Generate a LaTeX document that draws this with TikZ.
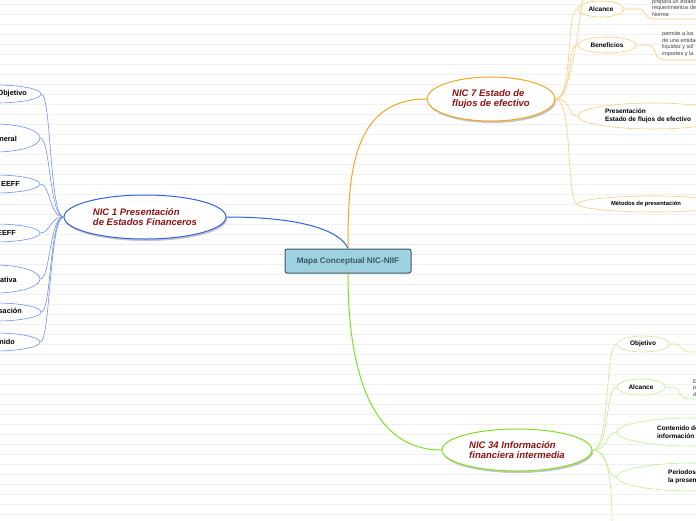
\documentclass[tikz,border=0pt]{standalone}
\usepackage{fontspec}
\setmainfont{Liberation Sans}
\usetikzlibrary{shapes.geometric,shadows}
\definecolor{bl}{HTML}{2F63E0}
\definecolor{blc}{HTML}{6E93F2}
\definecolor{orc}{HTML}{F5A623}
\definecolor{orl}{HTML}{FFCB78}
\definecolor{gr}{HTML}{7EE022}
\definecolor{grl}{HTML}{BDF08A}
\definecolor{dred}{HTML}{8E1212}
\definecolor{cfill}{HTML}{9ED2E0}
\definecolor{cdraw}{HTML}{3E5664}
\tikzset{
 mainnode/.style={ellipse,draw=#1,line width=1pt,fill=white,inner sep=0pt,align=left,
   font=\fontsize{9.5}{10.5}\selectfont\itshape\bfseries,text=dred,
   drop shadow={shadow xshift=1pt,shadow yshift=-2pt,fill=black!45,opacity=.5}},
 child/.style={ellipse,draw=#1,line width=.6pt,fill=white,inner sep=0pt,align=left,
   font=\fontsize{6.5}{7.5}\selectfont\bfseries},
 ltext/.style={anchor=east,inner sep=0pt,font=\fontsize{7.3}{8}\selectfont\bfseries},
 desc/.style={anchor=west,align=left,inner sep=0pt,font=\fontsize{5.5}{6.5}\selectfont,text=black!75},
 conn/.style={line width=.6pt,draw=#1},
 mainconn/.style={line width=1pt,draw=#1}
}
\begin{document}
\begin{tikzpicture}[x=1pt,y=-1pt]
\useasboundingbox (0,0) rectangle (696,520);
\clip (0,0) rectangle (696,520);
\fill[white] (0,0) rectangle (696,520);
\foreach \y in {4,14,...,520} \draw[black!6,line width=.5pt] (0,\y) -- (696,\y);
% center
\node[draw=cdraw,fill=cfill,line width=1pt,rounded corners=2pt,minimum width=126pt,minimum height=24pt,
  font=\fontsize{8.2}{9}\selectfont\bfseries,text=cdraw] (c) at (348,261) {Mapa Conceptual NIC-NIIF};
% main nodes
\node[mainnode=bl,minimum width=162pt,minimum height=44pt] (n1) at (145,217) {NIC 1 Presentación\\de Estados Financeros};
\node[mainnode=orc,minimum width=128pt,minimum height=44pt] (n7) at (491,99) {NIC 7 Estado de\\flujos de efectivo};
\node[mainnode=gr,minimum width=150pt,minimum height=42pt] (n34) at (517,450) {NIC 34 Información\\financiera intermedia};
\draw[mainconn=bl] (c.north) .. controls (340,230) and (300,217) .. (n1.east);
\draw[mainconn=orc] (c.north) .. controls (348,180) and (350,99) .. (n7.west);
\draw[mainconn=gr] (c.south) .. controls (348,330) and (355,450) .. (n34.west);
% NIC1 children
\node[child=blc,minimum width=90pt,minimum height=18pt] (a1) at (-4,94) {};
\node[child=blc,minimum width=90pt,minimum height=28pt] (a2) at (-5,138) {};
\node[child=blc,minimum width=90pt,minimum height=18pt] (a3) at (-5,184) {};
\node[child=blc,minimum width=90pt,minimum height=18pt] (a4) at (-5,233) {};
\node[child=blc,minimum width=90pt,minimum height=28pt] (a5) at (-5,279) {};
\node[child=blc,minimum width=90pt,minimum height=18pt] (a6) at (-4,312) {};
\node[child=blc,minimum width=90pt,minimum height=18pt] (a7) at (-5,342) {};
\node[ltext] (l1) at (27,94) {Objetivo};
\node[ltext] (l2) at (17,139) {General};
\node[ltext] (l3) at (20,184) {EEFF};
\node[ltext] (l4) at (16,233) {EEFF};
\node[ltext] (l5) at (17,280) {Normativa};
\node[ltext] (l6) at (22,312) {Compensación};
\node[ltext] (l7) at (15,342) {Contenido};
\foreach \k in {a1,a2,a3,a4,a5,a6,a7}
  \draw[conn=blc] (n1.west) .. controls +(-14,0) and +(10,0) .. (\k.east);
% NIC7 children
\coordinate (o0) at (585,-12);
\node[child=orl,minimum width=46pt,minimum height=16pt] (o1) at (601,9) {Alcance};
\node[child=orl,minimum width=58pt,minimum height=16pt] (o2) at (607,45) {Beneficios};
\node[child=orl,minimum width=150pt,minimum height=26pt] (o3) at (653,116) {Presentación\\Estado de flujos de efectivo\hspace*{10pt}};
\node[child=orl,minimum width=150pt,minimum height=16pt] (o4) at (653,204) {\fontsize{5.8}{6}\selectfont\bfseries Métodos de presentación\hspace*{14pt}};
\draw[conn=orl] (n7.east) .. controls +(18,0) and +(-4,10) .. (o0);
\foreach \k in {o1,o2,o3,o4}
  \draw[conn=orl] (n7.east) .. controls +(18,0) and +(-12,0) .. (\k.west);
\node[desc] (t1) at (652,8) {prepara un estado\\requerimientos de\\ Norma};
\draw[conn=orl] (o1.east) -- (638,9) .. controls (646,9) and (644,19) .. (654,19) -- (700,19);
\node[desc] (t2) at (662,44) {permite a los\\de una entidad\\liquidez y sol\\importes y la};
\draw[conn=orl] (o2.east) -- (648,45) .. controls (656,45) and (654,60) .. (664,60) -- (700,60);
% NIC34 children
\node[child=grl,minimum width=52pt,minimum height=16pt] (g1) at (643,344) {Objetivo};
\node[child=grl,minimum width=48pt,minimum height=16pt] (g2) at (641,387) {Alcance};
\node[child=grl,minimum width=150pt,minimum height=28pt] (g3) at (692,432) {Contenido de la\\información financiera};
\node[child=grl,minimum width=150pt,minimum height=28pt] (g4) at (692,477) {Periodos para\\la presentación};
\coordinate (g5) at (612,530);
\foreach \k in {g1,g2,g3,g4}
  \draw[conn=grl] (n34.east) .. controls +(18,0) and +(-12,0) .. (\k.west);
\draw[conn=grl] (n34.east) .. controls +(18,0) and +(0,-40) .. (g5);
\draw[conn=grl] (g1.east) -- (676,344) .. controls (682,344) and (680,352) .. (690,352) -- (700,352);
\node[desc] (t3) at (693,388) {E\\p\\d};
\draw[conn=grl] (g2.east) -- (674,387) .. controls (680,387) and (678,399) .. (690,399) -- (700,399);
\end{tikzpicture}
\end{document}
